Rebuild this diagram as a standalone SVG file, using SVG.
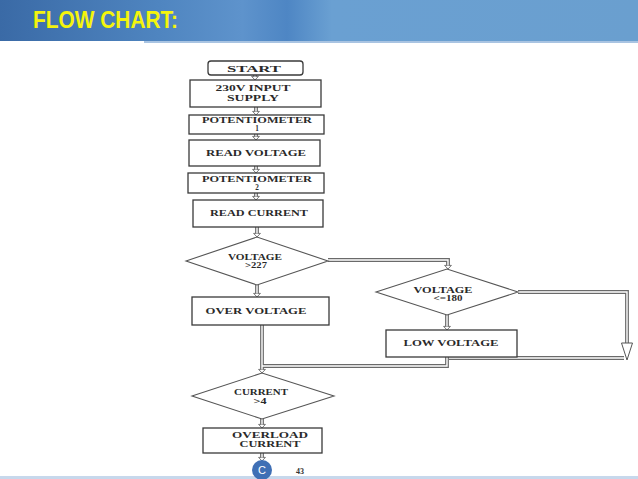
<svg xmlns="http://www.w3.org/2000/svg" width="638" height="479" viewBox="0 0 638 479">
<style>
.box{fill:#fff;stroke:#3a3a3a;stroke-width:1.3}
.dia{fill:#fff;stroke:#555;stroke-width:1.1}
.t{font-family:"Liberation Serif",serif;font-weight:bold;font-size:8.8px;fill:#2a2a2a;text-anchor:middle}
.ts{font-family:"Liberation Serif",serif;font-weight:bold;font-size:7.2px;fill:#2a2a2a;text-anchor:middle}
.o{fill:none;stroke:#6a6a6a;stroke-width:3.8}
.i{fill:none;stroke:#fff;stroke-width:1.4}
.a{marker-end:url(#ah)}
</style>
<defs>
<linearGradient id="hdr" x1="0" y1="0" x2="1" y2="0">
<stop offset="0" stop-color="#3a6aa6"/>
<stop offset="0.25" stop-color="#4f85c0"/>
<stop offset="0.38" stop-color="#5e93cc"/>
<stop offset="0.45" stop-color="#4e86c4"/>
<stop offset="0.52" stop-color="#6aa0d2"/>
<stop offset="1" stop-color="#6a9fcf"/>
</linearGradient>
<marker id="ah" markerUnits="userSpaceOnUse" markerWidth="8" markerHeight="8" refX="0" refY="4" orient="auto" viewBox="0 0 8 8" overflow="visible">
<path d="M0,0.6 L3.6,4 L0,7.4 Z" fill="#fff" stroke="#555" stroke-width="0.8"/>
</marker>
</defs>
<rect x="0" y="0" width="638" height="479" fill="#fff"/>
<rect x="0" y="0" width="638" height="41" fill="url(#hdr)"/>
<rect x="144" y="41" width="494" height="2" fill="#a9c4e2"/>
<text x="33" y="28" font-family="Liberation Sans,sans-serif" font-weight="bold" font-size="23" fill="#f4f40c" textLength="145" lengthAdjust="spacingAndGlyphs">FLOW CHART:</text>

<g id="connectors">
<g class="outer">
<path class="o a" d="M255,75 V76.4"/>
<path class="o a" d="M256,107 V111.4"/>
<path class="o a" d="M256,134 V136.4"/>
<path class="o a" d="M256,166 V169.4"/>
<path class="o a" d="M256,193 V196.4"/>
<path class="o a" d="M257,227 V233.4"/>
<path class="o a" d="M257,285 V293.4"/>
<path class="o a" d="M262,325 V369.4"/>
<path class="o a" d="M328,260 H448 V265.4"/>
<path class="o a" d="M447,315 V326.4"/>
<path class="o" d="M447,357 V366 H262"/>
<path class="o" d="M518,292 H627 V343"/>
<path class="o" d="M624,358 H449"/>
<path class="o a" d="M262,419 V424.4"/>
<path class="o a" d="M262,453 V457.4"/>
</g>
<g class="inner">
<path class="i" d="M255,75 V76.4"/>
<path class="i" d="M256,107 V111.4"/>
<path class="i" d="M256,134 V136.4"/>
<path class="i" d="M256,166 V169.4"/>
<path class="i" d="M256,193 V196.4"/>
<path class="i" d="M257,227 V233.4"/>
<path class="i" d="M257,285 V293.4"/>
<path class="i" d="M262,324 V369.4"/>
<path class="i" d="M328,260 H448 V265.4"/>
<path class="i" d="M447,315 V326.4"/>
<path class="i" d="M447,356 V366 H262"/>
<path class="i" d="M518,292 H627 V343.5"/>
<path class="i" d="M624,358 H449"/>
<path class="i" d="M262,419 V424.4"/>
<path class="i" d="M262,452 V457.4"/>
</g>
<polygon points="621.5,343 632.5,343 627,360" fill="#fff" stroke="#555" stroke-width="1"/>
</g>

<g id="start">
<rect class="box" x="208" y="61" width="95" height="14" rx="3"/>
<text class="t" x="254" y="71.5" textLength="54" lengthAdjust="spacingAndGlyphs">START</text>
</g>
<g id="supply">
<rect class="box" x="190" y="80" width="131" height="27"/>
<text class="t" x="253" y="91" textLength="75" lengthAdjust="spacingAndGlyphs">230V INPUT</text>
<text class="t" x="253" y="100.5" textLength="52" lengthAdjust="spacingAndGlyphs">SUPPLY</text>
</g>
<g id="pot1">
<rect class="box" x="189" y="115" width="135" height="19"/>
<text class="ts" x="257" y="123" textLength="110" lengthAdjust="spacingAndGlyphs">POTENTIOMETER</text>
<text class="ts" x="257" y="131">1</text>
</g>
<g id="readv">
<rect class="box" x="189" y="140" width="131" height="26"/>
<text class="t" x="256" y="156" textLength="100" lengthAdjust="spacingAndGlyphs">READ VOLTAGE</text>
</g>
<g id="pot2">
<rect class="box" x="188" y="173" width="136" height="20"/>
<text class="ts" x="257" y="181.5" textLength="110" lengthAdjust="spacingAndGlyphs">POTENTIOMETER</text>
<text class="ts" x="257" y="190">2</text>
</g>
<g id="readc">
<rect class="box" x="193" y="200" width="130" height="27"/>
<text class="t" x="259" y="216" textLength="98" lengthAdjust="spacingAndGlyphs">READ CURRENT</text>
</g>
<g id="dec1">
<polygon class="dia" points="186,261 257,237 328,261 257,285"/>
<text class="ts" x="255" y="260" textLength="54" lengthAdjust="spacingAndGlyphs">VOLTAGE</text>
<text class="ts" x="256" y="267.5" textLength="22" lengthAdjust="spacingAndGlyphs">&gt;227</text>
</g>
<g id="overv">
<rect class="box" x="192" y="297" width="137" height="28"/>
<text class="t" x="256" y="314" textLength="101" lengthAdjust="spacingAndGlyphs">OVER VOLTAGE</text>
</g>
<g id="dec2">
<polygon class="dia" points="376,292 447,269 518,292 447,315"/>
<text class="ts" x="443" y="293" textLength="59" lengthAdjust="spacingAndGlyphs">VOLTAGE</text>
<text class="ts" x="448" y="300.5" textLength="29" lengthAdjust="spacingAndGlyphs">&lt;=180</text>
</g>
<g id="lowv">
<rect class="box" x="386" y="330" width="131" height="27"/>
<text class="t" x="451" y="346" textLength="95" lengthAdjust="spacingAndGlyphs">LOW VOLTAGE</text>
</g>
<g id="dec3">
<polygon class="dia" points="192,396 262,373 334,396 262,419"/>
<text class="ts" x="261" y="395" textLength="54" lengthAdjust="spacingAndGlyphs">CURRENT</text>
<text class="ts" x="260" y="403.5" textLength="13" lengthAdjust="spacingAndGlyphs">&gt;4</text>
</g>
<g id="overload">
<rect class="box" x="203" y="428" width="119" height="25"/>
<text class="ts" x="270" y="438" textLength="76" lengthAdjust="spacingAndGlyphs">OVERLOAD</text>
<text class="ts" x="270" y="446.5" textLength="61" lengthAdjust="spacingAndGlyphs">CURRENT</text>
</g>
<rect x="0" y="476" width="638" height="3" fill="#c7d8ec"/>
<g id="conn-c">
<circle cx="262" cy="470" r="10" fill="#3f6fb5"/>
<text x="262" y="474" font-family="Liberation Sans,sans-serif" font-size="11" fill="#fff" text-anchor="middle">C</text>
</g>
<text x="300" y="474" font-family="Liberation Serif,serif" font-weight="bold" font-size="8" fill="#333" text-anchor="middle">43</text>
</svg>
